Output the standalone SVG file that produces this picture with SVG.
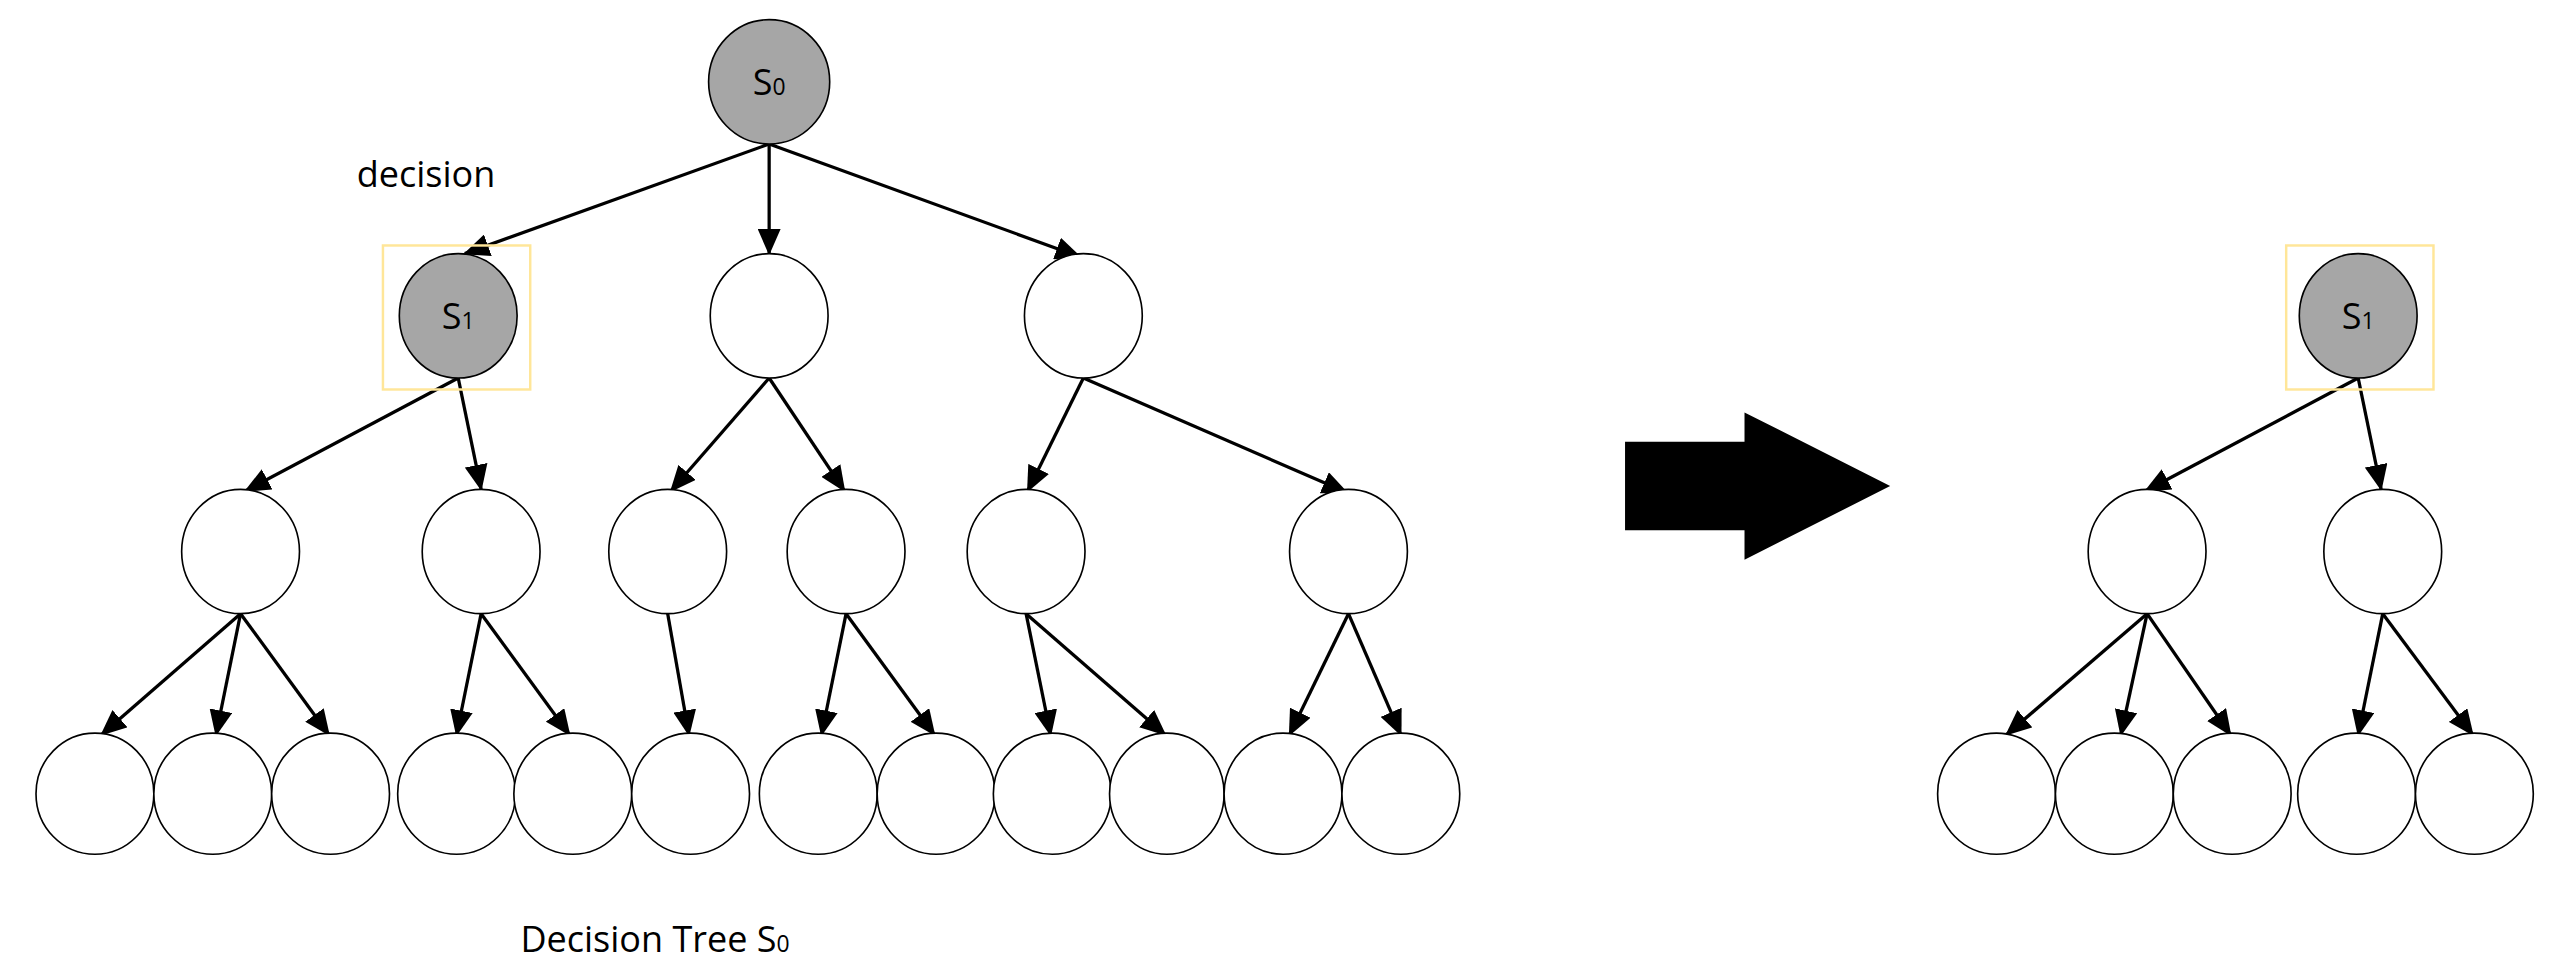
<svg xmlns="http://www.w3.org/2000/svg" width="2566" height="977" viewBox="0 0 2566 977">
<style>
.n{fill:#fff;stroke:#000;stroke-width:1}
.g{fill:#a6a6a6;stroke:#000;stroke-width:1}
.box{fill:none;stroke:#ffe699;stroke-width:1.5}
.e{stroke:#000;stroke-width:2;fill:none;marker-end:url(#ah)}
text{font-family:"Open Sans","Liberation Sans",sans-serif;fill:#000}
.lbl{font-size:22px;text-anchor:middle}
.sub{font-size:14px}
</style>
<defs>
<marker id="ah" markerUnits="userSpaceOnUse" markerWidth="16" markerHeight="14" viewBox="0 0 16 14" refX="15" refY="7" orient="auto">
<path d="M0,0 L16,7 L0,14 z" fill="#000"/>
</marker>
</defs>
<rect width="2566" height="977" fill="#fff"/>
<g transform="scale(1.6365)">
<g id="connectors">
<line class="e" x1="470" y1="88" x2="284" y2="155"/>
<line class="e" x1="470" y1="88" x2="470" y2="155"/>
<line class="e" x1="470" y1="88" x2="660" y2="157"/>
<line class="e" x1="280" y1="231" x2="150" y2="300"/>
<line class="e" x1="280" y1="231" x2="294" y2="299"/>
<line class="e" x1="470" y1="231" x2="410" y2="300"/>
<line class="e" x1="470" y1="231" x2="516" y2="300"/>
<line class="e" x1="662" y1="231" x2="628" y2="300"/>
<line class="e" x1="662" y1="231" x2="823" y2="301"/>
<line class="e" x1="147" y1="375" x2="62" y2="449"/>
<line class="e" x1="147" y1="375" x2="132" y2="449"/>
<line class="e" x1="147" y1="375" x2="201" y2="449"/>
<line class="e" x1="294" y1="375" x2="279" y2="449"/>
<line class="e" x1="294" y1="375" x2="348" y2="449"/>
<line class="e" x1="408" y1="375" x2="421" y2="449"/>
<line class="e" x1="517" y1="375" x2="502" y2="449"/>
<line class="e" x1="517" y1="375" x2="571" y2="449"/>
<line class="e" x1="627" y1="375" x2="642" y2="449"/>
<line class="e" x1="627" y1="375" x2="712" y2="449"/>
<line class="e" x1="824" y1="375" x2="788" y2="449"/>
<line class="e" x1="824" y1="375" x2="856" y2="449"/>
<line class="e" x1="1441" y1="231" x2="1311" y2="300"/>
<line class="e" x1="1441" y1="231" x2="1455" y2="299"/>
<line class="e" x1="1312" y1="375" x2="1226" y2="449"/>
<line class="e" x1="1312" y1="375" x2="1296" y2="449"/>
<line class="e" x1="1312" y1="375" x2="1363" y2="449"/>
<line class="e" x1="1456" y1="375" x2="1441" y2="449"/>
<line class="e" x1="1456" y1="375" x2="1511" y2="449"/>
</g>
<g id="s0"><ellipse class="g" cx="470" cy="50" rx="37" ry="38"/><text class="lbl" x="470" y="58">S<tspan class="sub">0</tspan></text></g>
<g id="s1"><rect class="box" x="234" y="150" width="90" height="88"/><ellipse class="g" cx="280" cy="193" rx="36" ry="38"/><text class="lbl" x="280" y="201">S<tspan class="sub">1</tspan></text></g>
<g id="l1b"><ellipse class="n" cx="470" cy="193" rx="36" ry="38"/></g>
<g id="l1c"><ellipse class="n" cx="662" cy="193" rx="36" ry="38"/></g>
<g id="l2a"><ellipse class="n" cx="147" cy="337" rx="36" ry="38"/></g>
<g id="l2b"><ellipse class="n" cx="294" cy="337" rx="36" ry="38"/></g>
<g id="l2c"><ellipse class="n" cx="408" cy="337" rx="36" ry="38"/></g>
<g id="l2d"><ellipse class="n" cx="517" cy="337" rx="36" ry="38"/></g>
<g id="l2e"><ellipse class="n" cx="627" cy="337" rx="36" ry="38"/></g>
<g id="l2f"><ellipse class="n" cx="824" cy="337" rx="36" ry="38"/></g>
<g id="l3a"><ellipse class="n" cx="58" cy="485" rx="36" ry="37"/></g>
<g id="l3b"><ellipse class="n" cx="130" cy="485" rx="36" ry="37"/></g>
<g id="l3c"><ellipse class="n" cx="202" cy="485" rx="36" ry="37"/></g>
<g id="l3d"><ellipse class="n" cx="279" cy="485" rx="36" ry="37"/></g>
<g id="l3e"><ellipse class="n" cx="350" cy="485" rx="36" ry="37"/></g>
<g id="l3f"><ellipse class="n" cx="422" cy="485" rx="36" ry="37"/></g>
<g id="l3g"><ellipse class="n" cx="500" cy="485" rx="36" ry="37"/></g>
<g id="l3h"><ellipse class="n" cx="572" cy="485" rx="36" ry="37"/></g>
<g id="l3i"><ellipse class="n" cx="643" cy="485" rx="36" ry="37"/></g>
<g id="l3j"><ellipse class="n" cx="713" cy="485" rx="35" ry="37"/></g>
<g id="l3k"><ellipse class="n" cx="784" cy="485" rx="36" ry="37"/></g>
<g id="l3l"><ellipse class="n" cx="856" cy="485" rx="36" ry="37"/></g>
<g id="r-s1"><rect class="box" x="1397" y="150" width="90" height="88"/><ellipse class="g" cx="1441" cy="193" rx="36" ry="38"/><text class="lbl" x="1441" y="201">S<tspan class="sub">1</tspan></text></g>
<g id="r2a"><ellipse class="n" cx="1312" cy="337" rx="36" ry="38"/></g>
<g id="r2b"><ellipse class="n" cx="1456" cy="337" rx="36" ry="38"/></g>
<g id="r3a"><ellipse class="n" cx="1220" cy="485" rx="36" ry="37"/></g>
<g id="r3b"><ellipse class="n" cx="1292" cy="485" rx="36" ry="37"/></g>
<g id="r3c"><ellipse class="n" cx="1364" cy="485" rx="36" ry="37"/></g>
<g id="r3d"><ellipse class="n" cx="1440" cy="485" rx="36" ry="37"/></g>
<g id="r3e"><ellipse class="n" cx="1512" cy="485" rx="36" ry="37"/></g>
<g id="bigarrow"><path d="M993,270 H1066 V252 L1155,297 L1066,342 V324 H993 Z" fill="#000"/></g>
<text x="218" y="114" font-size="22">decision</text>
<text x="318" y="582" font-size="22">Decision Tree S<tspan class="sub">0</tspan></text>
</g>
</svg>
